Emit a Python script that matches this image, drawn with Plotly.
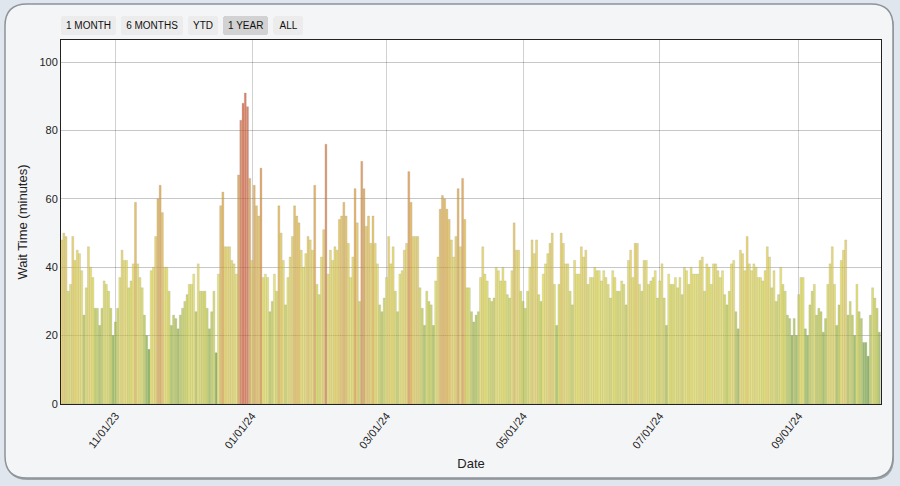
import pandas as pd
import plotly.graph_objects as go

# ---- data (daily wait times, minutes) ----
start_date = "2023-10-08"
wait_oct_dec = [48,50,49,33,35,49,42,45,44,39, 26,34,46,40,37,28,28,23,28,36,
                35,33,28,20,24,28,37,45,42,42, 34,36,41,59,41,37,34,26,20,16,
                39,40,49,60,64,56,40,40,33,23, 26,25,22,26,28,30,32,35,35,38,
                27,41,33,33,33,28,22,27,33,15, 38,58,62]
wait_dec_mar = [46,46,46,42,41,38,67,83,88,91, 87,66,42,64,58,55,69,37,38,37,
                27,30,38,33,58,50,42,29,37,43, 49,58,55,53,45,40,44,49,48,45,
                64,35,32,43,51,76,38,45,42,46, 45,54,55,59,55,47,37,43,63,53,
                30,71,63,52,55,47,55,47,41,29, 27,31,37]
wait_mar_may = [49,41,46,33,27,38,39,45,47,68, 59,49,49,49,34,28,23,33,30,29,
                23,36,43,57,61,60,57,54,48,43, 49,63,46,66,54,34,34,27,24,26,
                27,37,46,38,36,31,30,31,40,39, 36,40,36,32,31,39,53,45,45,33,
                30,28,33,40,48,44,48,32,30,38, 41,44,47,50]
wait_may_jul = [35,23,35,50,47,41,41,33,29,42, 38,38,46,43,45,35,37,37,40,39,
                39,36,39,37,35,31,39,37,33,33, 36,35,29,42,45,37,47,47,35,33,
                42,42,35,36,37,39,31,36,41,31, 23,38,35,35,37,34,37,32,40,39,
                35,40,38,38,38,42,43,33,41,40, 35,41]
wait_jul_oct = [41,39,37,39,32,29,33,41,42,27, 22,45,44,39,49,41,39,41,40,37,
                37,36,39,46,43,34,39,30,32,40, 35,33,26,25,20,25,20,32,37,37,
                22,20,29,33,35,26,28,27,21,25, 35,41,46,35,23,29,42,45,48,26,
                30,26,20,35,27,25,18,18,14,26, 34,31,28,21]
tick_labels = ["11/01/23", "01/01/24", "03/01/24", "05/01/24", "07/01/24", "09/01/24"]
tick_dates = ["2023-11-01", "2024-01-01", "2024-03-01", "2024-05-01", "2024-07-01", "2024-09-01"]

wait = wait_oct_dec + wait_dec_mar + wait_mar_may + wait_may_jul + wait_jul_oct
dates = pd.date_range(start_date, periods=len(wait), freq="D")

colorscale = [
    [0.00, "#5e9a2e"],
    [0.08, "#6fa534"],
    [0.20, "#b5c43c"],
    [0.33, "#e2dc45"],
    [0.45, "#e2c843"],
    [0.60, "#dea433"],
    [0.80, "#d6703a"],
    [1.00, "#d04a2a"],
]

fig = go.Figure()
fig.add_trace(go.Bar(
    x=dates, y=wait,
    marker=dict(color=wait, colorscale=colorscale, cmin=10, cmax=95,
                opacity=0.74, line=dict(color="rgba(110,110,110,0.45)", width=0.5)),
    showlegend=False,
))

W, H = 900, 486
L, R, T, B = 61, 19, 40, 82
pw, ph = W - L - R, H - T - B

def px(x):
    return (x - L) / pw

def py(y):
    return (H - B - y) / ph

x0, x1, y0, y1, r = 5, 893, 4, 478, 22

def frame(dx, dy):
    return (f"M {px(x0 + r + dx)},{py(y0 + dy)} L {px(x1 - r + dx)},{py(y0 + dy)} Q {px(x1 + dx)},{py(y0 + dy)} {px(x1 + dx)},{py(y0 + r + dy)} "
            f"L {px(x1 + dx)},{py(y1 - r + dy)} Q {px(x1 + dx)},{py(y1 + dy)} {px(x1 - r + dx)},{py(y1 + dy)} "
            f"L {px(x0 + r + dx)},{py(y1 + dy)} Q {px(x0 + dx)},{py(y1 + dy)} {px(x0 + dx)},{py(y1 - r + dy)} "
            f"L {px(x0 + dx)},{py(y0 + r + dy)} Q {px(x0 + dx)},{py(y0 + dy)} {px(x0 + r + dx)},{py(y0 + dy)} Z")

fig.update_layout(
    width=W, height=H,
    margin=dict(l=L, r=R, t=T, b=B),
    paper_bgcolor="#dfe6ee",
    plot_bgcolor="white",
    font=dict(family="Liberation Sans, Arial, sans-serif", size=11, color="#222"),
    bargap=0.12,
    shapes=[
        dict(type="path", path=frame(1, 2), xref="paper", yref="paper", layer="below",
             fillcolor="#9da3aa", line=dict(width=0)),
        dict(type="path", path=frame(0, 0), xref="paper", yref="paper", layer="below",
             fillcolor="#f4f5f7", line=dict(color="#8e9399", width=1.5)),
        dict(type="rect", x0=0, x1=1, y0=0, y1=1, xref="paper", yref="paper", layer="below",
             fillcolor="white", line=dict(width=0)),
    ],
    xaxis=dict(
        type="date",
        range=["2023-10-07 18:00", "2024-10-07 18:00"],
        tickvals=tick_dates, ticktext=tick_labels,
        tickangle=-52,
        showgrid=True, gridcolor="rgba(0,0,0,0.18)", gridwidth=1,
        showline=True, linecolor="#222", linewidth=1, mirror=True,
        ticks="", tickfont=dict(size=11),
        title=dict(text="Date", font=dict(size=13), standoff=8),
        rangeselector=dict(
            buttons=[
                dict(count=1, label="1 MONTH", step="month", stepmode="backward"),
                dict(count=6, label="6 MONTHS", step="month", stepmode="backward"),
                dict(count=1, label="YTD", step="year", stepmode="todate"),
                dict(count=1, label="1 YEAR", step="year", stepmode="backward"),
                dict(label="ALL", step="all"),
            ],
            x=0, xanchor="left", y=1.014, yanchor="bottom",
            bgcolor="#ececec", activecolor="#d2d2d2",
            font=dict(size=10, color="#111"),
        ),
    ),
    yaxis=dict(
        range=[0, 106.5],
        tickvals=[0, 20, 40, 60, 80, 100],
        showgrid=True, gridcolor="rgba(0,0,0,0.22)", gridwidth=1,
        showline=True, linecolor="#222", linewidth=1, mirror=True,
        zeroline=False, ticks="", tickfont=dict(size=11),
        title=dict(text="Wait Time (minutes)", font=dict(size=13), standoff=8),
    ),
)

fig.write_html("out.html")
